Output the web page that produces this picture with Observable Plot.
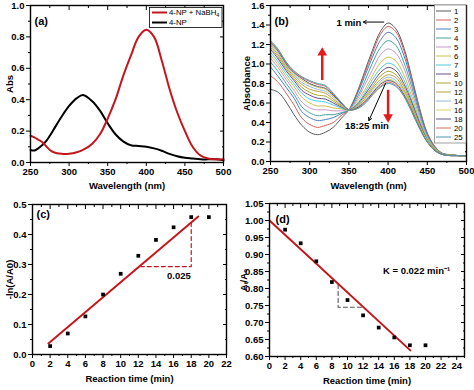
<!DOCTYPE html>
<html><head><meta charset="utf-8">
<script src="https://cdn.jsdelivr.net/npm/d3@7"></script>
<script src="https://cdn.jsdelivr.net/npm/@observablehq/plot@0.6"></script>
<style>
body{margin:0;background:#fff;}
#root{position:relative;width:474px;height:390px;overflow:hidden;font-family:"Liberation Sans",Arial,sans-serif;background:#fff;}
.panel{position:absolute;}
</style></head><body><div id="root"></div>
<script>
// ---------- Panel (a) ----------
const aWavelength = [250,255,260,265,270,275,280,290,300,310,318,330,340,350,360,370,380,390,400,410,420,430,440,450,460,470,480,490,500];
const aNaBH4 = [0.17,0.16,0.145,0.13,0.105,0.08,0.065,0.055,0.055,0.065,0.08,0.12,0.18,0.28,0.40,0.55,0.68,0.80,0.845,0.80,0.65,0.47,0.32,0.20,0.10,0.045,0.025,0.02,0.02];
const aNP = [0.08,0.076,0.09,0.11,0.135,0.17,0.21,0.29,0.36,0.41,0.43,0.39,0.33,0.25,0.18,0.135,0.11,0.105,0.10,0.09,0.075,0.055,0.04,0.03,0.025,0.02,0.02,0.02,0.015];
const aSeriesNames = ["4-NP + NaBH", "4-NP"];
const aSeriesColors = ["#c4161c", "#000000"];

// ---------- Panel (b) ----------
const bWavelength = [250,260,270,280,290,300,310,320,330,340,350,360,370,380,390,400,410,420,430,440,450,460,470,480,490,500];
const bMinutes = ["1","2","3","4","5","6","7","8","10","12","14","16","18","20","25"];
const bColors = ["#595959","#d0605a","#4a7ec0","#4aa3a0","#c89ac8","#c8c050","#50c8e0","#6b4f8a","#a8a830","#b8a040","#98b8e0","#d8d060","#5a5a7a","#d07060","#4a98b0"];
const abs1  = [0.74,0.71,0.61,0.48,0.37,0.30,0.275,0.30,0.35,0.44,0.53,0.70,0.92,1.14,1.33,1.42,1.36,1.17,0.87,0.55,0.29,0.15,0.08,0.07,0.06,0.06];
const abs2  = [0.88,0.81,0.70,0.58,0.445,0.38,0.35,0.37,0.40,0.47,0.53,0.69,0.90,1.11,1.30,1.385,1.33,1.14,0.85,0.54,0.285,0.15,0.08,0.07,0.06,0.06];
const abs3  = [0.97,0.87,0.76,0.65,0.51,0.45,0.42,0.43,0.45,0.49,0.53,0.68,0.87,1.07,1.24,1.325,1.27,1.09,0.82,0.52,0.28,0.14,0.08,0.07,0.06,0.06];
const abs4  = [1.02,0.92,0.80,0.69,0.56,0.50,0.47,0.48,0.48,0.50,0.53,0.65,0.82,1.01,1.165,1.24,1.19,1.02,0.77,0.49,0.26,0.14,0.08,0.07,0.06,0.06];
const abs5  = [1.06,0.96,0.84,0.73,0.61,0.55,0.53,0.53,0.52,0.52,0.53,0.63,0.78,0.94,1.09,1.155,1.11,0.96,0.72,0.46,0.25,0.13,0.075,0.065,0.06,0.06];
const abs6  = [1.09,0.99,0.87,0.77,0.66,0.60,0.57,0.57,0.55,0.54,0.53,0.61,0.73,0.88,1.01,1.07,1.03,0.89,0.67,0.43,0.24,0.13,0.075,0.065,0.06,0.06];
const abs7  = [1.12,1.02,0.90,0.80,0.70,0.64,0.62,0.61,0.58,0.55,0.53,0.59,0.70,0.84,0.95,1.01,0.97,0.84,0.63,0.41,0.23,0.12,0.073,0.065,0.06,0.06];
const abs8  = [1.15,1.05,0.93,0.83,0.73,0.68,0.65,0.64,0.60,0.56,0.53,0.58,0.68,0.80,0.91,0.965,0.93,0.80,0.61,0.40,0.22,0.12,0.073,0.065,0.06,0.06];
const abs10 = [1.17,1.07,0.95,0.85,0.76,0.71,0.68,0.67,0.62,0.57,0.53,0.57,0.66,0.77,0.875,0.925,0.89,0.77,0.58,0.38,0.22,0.12,0.072,0.065,0.06,0.06];
const abs12 = [1.19,1.09,0.97,0.87,0.79,0.74,0.72,0.70,0.64,0.58,0.53,0.56,0.64,0.75,0.84,0.89,0.86,0.74,0.56,0.37,0.21,0.12,0.071,0.065,0.06,0.06];
const abs14 = [1.20,1.11,0.98,0.89,0.81,0.77,0.74,0.72,0.66,0.59,0.53,0.56,0.62,0.73,0.82,0.865,0.83,0.72,0.55,0.36,0.21,0.11,0.07,0.06,0.06,0.06];
const abs16 = [1.21,1.12,0.99,0.90,0.83,0.79,0.76,0.74,0.67,0.60,0.53,0.55,0.61,0.71,0.80,0.845,0.81,0.71,0.54,0.355,0.21,0.11,0.07,0.06,0.06,0.06];
const abs18 = [1.22,1.13,1.00,0.91,0.85,0.80,0.77,0.75,0.68,0.60,0.53,0.55,0.61,0.70,0.79,0.83,0.80,0.69,0.53,0.35,0.20,0.11,0.07,0.06,0.06,0.06];
const abs20 = [1.23,1.14,1.01,0.92,0.86,0.82,0.79,0.77,0.69,0.61,0.53,0.54,0.60,0.69,0.77,0.815,0.78,0.68,0.52,0.345,0.20,0.11,0.07,0.06,0.06,0.06];
const abs25 = [1.24,1.15,1.02,0.93,0.87,0.83,0.80,0.78,0.70,0.61,0.53,0.54,0.59,0.68,0.76,0.80,0.77,0.67,0.51,0.34,0.20,0.11,0.07,0.06,0.06,0.06];
const bSpectra = [abs1,abs2,abs3,abs4,abs5,abs6,abs7,abs8,abs10,abs12,abs14,abs16,abs18,abs20,abs25];
// annotations (b)
const bNoteText = ["1 min", "18:25 min"];
const bNoteX = [350, 373];
const bNoteY = [1.42, 0.36];
const bPointerX1 = [394.5, 396.7];
const bPointerY1 = [1.43, 0.80];
const bPointerX2 = [368.5, 375.5];
const bPointerY2 = [1.43, 0.42];
const bRedX = [316, 400];
const bRedFrom = [0.83, 0.73];
const bRedTo = [1.10, 0.47];
const bRedHead = [1.115, 0.455];
const bRedRotate = [0, 180];

// ---------- Panel (c) ----------
const cTime = [2,4,6,8,10,12,14,16,18,20];
const cLnRatio = [0.028,0.070,0.127,0.200,0.269,0.329,0.382,0.424,0.458,0.458];
const cFitTime = [1.8, 18.8];
const cFitValue = [0.037, 0.46];
const cDashTime = [18, 18, 12.3];
const cDashValue = [0.44, 0.293, 0.293];
const cSlopeText = "0.025";

// ---------- Panel (d) ----------
const dTime = [2,4,6,8,10,12,14,16,18,20];
const dRatio = [0.973,0.933,0.880,0.819,0.766,0.721,0.685,0.656,0.633,0.633];
const dFitTime = [0, 18.05];
const dFitValue = [1.0, 0.618];
const dDashTime = [8.8, 8.8, 11.85];
const dDashValue = [0.812, 0.745, 0.745];
const dRateText = "K = 0.022 min\u207B\u00B9";

// ---------- helpers ----------
const FONT = '"Liberation Sans", Arial, Helvetica, sans-serif';
const RED = "#c4161c";
const ARROW_RED = "#e3191c";
const root = document.getElementById("root");
const none = () => "";

function range(a, b, s) { return d3.range(a, b + s / 2, s).map(v => +v.toFixed(4)); }

function boxAxes(o) {
  const t = {fontSize: 9.5, fontWeight: "bold"};
  return [
    Plot.axisX(o.xMajor, {anchor: "bottom", tickSize: 4, tickPadding: 2, tickFormat: o.xFmt, label: o.xLabel, labelAnchor: "center", labelArrow: "none", labelOffset: o.xOff, ...t}),
    Plot.axisX(o.xMinor, {anchor: "bottom", tickSize: 2, tickFormat: none, label: null}),
    Plot.axisX(o.xMajor, {anchor: "top", tickSize: -4, tickFormat: none, label: null}),
    Plot.axisX(o.xMinor, {anchor: "top", tickSize: -2, tickFormat: none, label: null}),
    Plot.axisY(o.yMajor, {anchor: "left", tickSize: 4, tickPadding: 2, tickFormat: o.yFmt, label: o.yLabel, labelAnchor: "center", labelArrow: "none", labelOffset: o.yOff, ...t}),
    Plot.axisY(o.yMinor, {anchor: "left", tickSize: 2, tickFormat: none, label: null}),
    Plot.axisY(o.yMajor, {anchor: "right", tickSize: -4, tickFormat: none, label: null}),
    Plot.axisY(o.yMinor, {anchor: "right", tickSize: -2, tickFormat: none, label: null})
  ];
}

function panel(o, marks, left, top) {
  const svg = Plot.plot({
    width: 237, height: 195,
    marginTop: o.m[0], marginRight: o.m[1], marginBottom: o.m[2], marginLeft: o.m[3],
    x: {domain: o.xd}, y: {domain: o.yd},
    color: o.color,
    style: {fontFamily: FONT, color: "black", background: "transparent", overflow: "visible"},
    marks: [
      ...marks,
      ...boxAxes(o),
      Plot.frame({stroke: "black", strokeWidth: 1.4}),
      Plot.text([o.tag], {frameAnchor: "top-left", dx: o.tagDx, dy: o.tagDy, text: d => d, textAnchor: "start", fontSize: 11, fontWeight: "bold"})
    ]
  });
  const div = document.createElement("div");
  div.className = "panel";
  div.style.left = left + "px";
  div.style.top = top + "px";
  div.appendChild(svg);
  root.appendChild(div);
  return div;
}

// ---------- draw (a) ----------
const aRows = aWavelength.map((w, i) => ({w, red: aNaBH4[i], blk: aNP[i]}));
const divA = panel({
  m: [5, 14, 33, 30], xd: [250, 500], yd: [0, 1.0],
  xMajor: range(250, 500, 50), xMinor: range(275, 475, 50),
  yMajor: range(0, 1, 0.2), yMinor: range(0.1, 0.9, 0.2),
  xFmt: d3.format("d"), yFmt: d3.format(".1f"),
  xLabel: "Wavelength (nm)", yLabel: "Abs", xOff: 26, yOff: 24,
  tag: "(a)", tagDx: 4, tagDy: 12
}, [
  Plot.line(aRows, {x: "w", y: "blk", stroke: aSeriesColors[1], strokeWidth: 2, curve: "catmull-rom"}),
  Plot.line(aRows, {x: "w", y: "red", stroke: aSeriesColors[0], strokeWidth: 2, curve: "catmull-rom"})
], 0, 0);

{
  const ns = "http://www.w3.org/2000/svg";
  const svg = d3.select(divA).append("svg").attr("width", 237).attr("height", 195)
    .style("position", "absolute").style("left", 0).style("top", 0).style("overflow", "visible");
  svg.append("rect").attr("x", 149.5).attr("y", 7.5).attr("width", 72.5).attr("height", 20)
    .attr("fill", "white").attr("stroke", "black").attr("stroke-width", 0.8);
  aSeriesNames.forEach((name, i) => {
    const y = 12.5 + i * 10;
    svg.append("line").attr("x1", 152).attr("x2", 167).attr("y1", y).attr("y2", y)
      .attr("stroke", aSeriesColors[i]).attr("stroke-width", 2);
    const t = svg.append("text").attr("x", 169).attr("y", y).attr("dy", "0.35em")
      .attr("font-family", FONT).attr("font-size", 7.8).text(name);
    if (i === 0) t.append("tspan").attr("font-size", 5.5).attr("dy", "0.3em").text("4");
  });
}

// ---------- draw (b) ----------
const bRows = [];
bSpectra.forEach((arr, i) => arr.forEach((v, j) => bRows.push({w: bWavelength[j], v, t: bMinutes[i]})));
const bNotes = bNoteText.map((s, i) => ({s, x: bNoteX[i], y: bNoteY[i]}));
const bPointers = bPointerX1.map((x, i) => ({x1: x, y1: bPointerY1[i], x2: bPointerX2[i], y2: bPointerY2[i]}));
const bRed = bRedX.map((x, i) => ({x, y1: bRedFrom[i], y2: bRedTo[i], h: bRedHead[i], r: bRedRotate[i]}));
const divB = panel({
  m: [5, 8, 34, 33], xd: [250, 500], yd: [0, 1.6],
  xMajor: range(250, 500, 50), xMinor: range(275, 475, 50),
  yMajor: range(0, 1.6, 0.2), yMinor: range(0.1, 1.5, 0.2),
  xFmt: d3.format("d"), yFmt: d3.format(".1f"),
  xLabel: "Wavelength (nm)", yLabel: "Absorbance", xOff: 27, yOff: 27,
  tag: "(b)", tagDx: 4, tagDy: 12,
  color: {domain: bMinutes, range: bColors}
}, [
  Plot.line(bRows, {x: "w", y: "v", z: "t", stroke: "t", strokeWidth: 1, curve: "catmull-rom"}),
  Plot.ruleX(bRed, {x: "x", y1: "y1", y2: "y2", stroke: ARROW_RED, strokeWidth: 2.5}),
  Plot.dot(bRed, {x: "x", y: "h", symbol: "triangle", r: 3.6, fill: ARROW_RED, rotate: "r"}),
  Plot.arrow(bPointers, {x1: "x1", y1: "y1", x2: "x2", y2: "y2", stroke: "black", strokeWidth: 1, headLength: 5}),
  Plot.text(bNotes, {x: "x", y: "y", text: "s", fontSize: 9.5, fontWeight: "bold", fill: "black"})
], 237, 0);

{
  const svg = d3.select(divB).append("svg").attr("width", 237).attr("height", 195)
    .style("position", "absolute").style("left", 0).style("top", 0).style("overflow", "visible");
  svg.append("rect").attr("x", 197.5).attr("y", 5).attr("width", 31.5).attr("height", 138)
    .attr("fill", "white").attr("stroke", "#777").attr("stroke-width", 0.7);
  bMinutes.forEach((m, i) => {
    const y = 11 + i * 9;
    svg.append("line").attr("x1", 199).attr("x2", 214).attr("y1", y).attr("y2", y)
      .attr("stroke", bColors[i]).attr("stroke-width", 1);
    svg.append("text").attr("x", 217).attr("y", y).attr("dy", "0.35em")
      .attr("font-family", FONT).attr("font-size", 7.8).text(m);
  });
}

// ---------- draw (c) ----------
const cPts = cTime.map((t, i) => ({t, v: cLnRatio[i]}));
const cFit = cFitTime.map((t, i) => ({t, v: cFitValue[i]}));
const cDash = cDashTime.map((t, i) => ({t, v: cDashValue[i]}));
panel({
  m: [9, 11, 36, 32], xd: [0, 22], yd: [0, 0.5],
  xMajor: range(0, 22, 2), xMinor: range(1, 21, 2),
  yMajor: range(0, 0.5, 0.1), yMinor: range(0.05, 0.45, 0.1),
  xFmt: d3.format("d"), yFmt: d3.format(".1f"),
  xLabel: "Reaction time (min)", yLabel: "-ln(A/A0)", xOff: 27, yOff: 26,
  tag: "(c)", tagDx: 4, tagDy: 6
}, [
  Plot.line(cDash, {x: "t", y: "v", stroke: RED, strokeWidth: 1.2, strokeDasharray: "4,3"}),
  Plot.line(cFit, {x: "t", y: "v", stroke: RED, strokeWidth: 2}),
  Plot.dot(cPts, {x: "t", y: "v", symbol: "square", r: 2.1, fill: "black"}),
  Plot.text([cSlopeText], {x: 16.6, y: 0.262, text: d => d, fontSize: 9.5, fontWeight: "bold", fill: "black"})
], 0, 195);

// ---------- draw (d) ----------
const dPts = dTime.map((t, i) => ({t, v: dRatio[i]}));
const dFit = dFitTime.map((t, i) => ({t, v: dFitValue[i]}));
const dDash = dDashTime.map((t, i) => ({t, v: dDashValue[i]}));
panel({
  m: [8, 10, 34, 32], xd: [0, 25], yd: [0.6, 1.05],
  xMajor: range(0, 24, 2), xMinor: range(1, 25, 2),
  yMajor: range(0.6, 1.05, 0.05), yMinor: range(0.625, 1.025, 0.05),
  xFmt: d3.format("d"), yFmt: d3.format(".2f"),
  xLabel: "Reaction time (min)", yLabel: "A\u209C/A\u2080", xOff: 27, yOff: 29,
  tag: "(d)", tagDx: 6, tagDy: 12
}, [
  Plot.line(dDash, {x: "t", y: "v", stroke: "#555", strokeWidth: 1.1, strokeDasharray: "4,3"}),
  Plot.line(dFit, {x: "t", y: "v", stroke: RED, strokeWidth: 2}),
  Plot.dot(dPts, {x: "t", y: "v", symbol: "square", r: 2.1, fill: "black"}),
  Plot.text([dRateText], {x: 18.85, y: 0.852, text: d => d, fontSize: 9.5, fontWeight: "bold", fill: "black"})
], 237, 195);
</script></body></html>
